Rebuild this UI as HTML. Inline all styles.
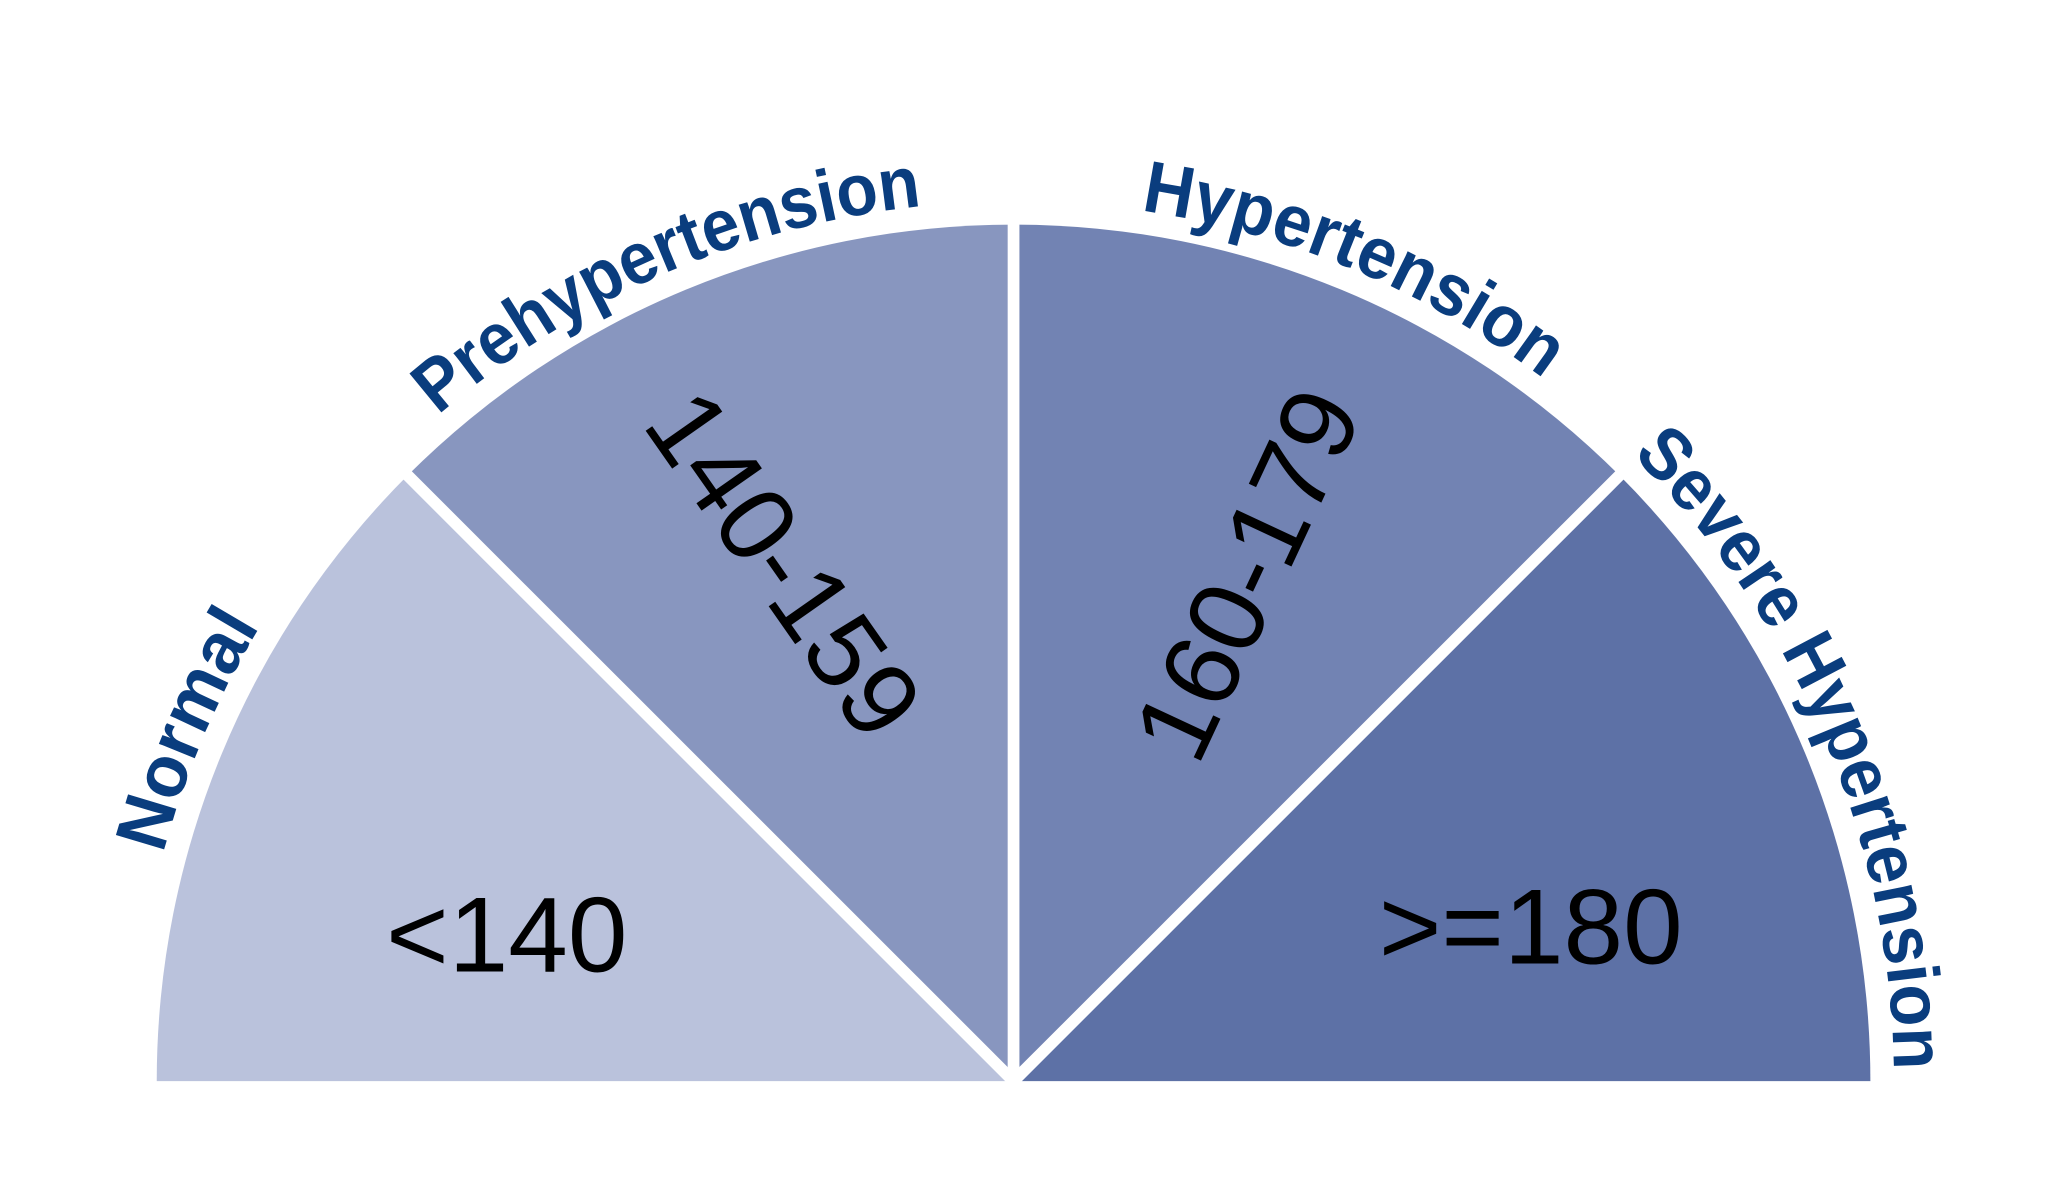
<!DOCTYPE html>
<html><head><meta charset="utf-8"><style>
html,body{margin:0;padding:0;background:#fff;}
svg{display:block;}
</style></head><body>
<svg width="2048" height="1200" viewBox="0 0 1568 919" preserveAspectRatio="none" xmlns="http://www.w3.org/2000/svg">
<defs>
<path id="arc" d="M 102 828 A 674 674 0 0 1 1450 828" fill="none"/>
</defs>
<g transform="translate(776,828)">
<path d="M0 0 L-656 0 A656 656 0 0 1 -463.9 -463.9 Z" fill="#bac2dc"/>
<path d="M0 0 L-463.9 -463.9 A656 656 0 0 1 0 -656 Z" fill="#8896bf"/>
<path d="M0 0 L0 -656 A656 656 0 0 1 463.9 -463.9 Z" fill="#7283b3"/>
<path d="M0 0 L463.9 -463.9 A656 656 0 0 1 656 0 Z" fill="#5d71a6"/>
<line x1="0" y1="4" x2="0" y2="-670" stroke="#fff" stroke-width="9"/>
<line x1="0" y1="0" x2="-480" y2="-480" stroke="#fff" stroke-width="9"/>
<line x1="0" y1="0" x2="480" y2="-480" stroke="#fff" stroke-width="9"/>
<rect x="-700" y="1" width="1400" height="30" fill="#fff"/>
</g>
<g font-family="'Liberation Sans', sans-serif" font-weight="bold" font-size="56" fill="#0a3d7e">
<text><textPath href="#arc" startOffset="12.8%" text-anchor="middle" textLength="190" lengthAdjust="spacingAndGlyphs">Normal</textPath></text>
<text><textPath href="#arc" startOffset="37%" text-anchor="middle" textLength="410" lengthAdjust="spacingAndGlyphs">Prehypertension</textPath></text>
<text><textPath href="#arc" startOffset="62.6%" text-anchor="middle" textLength="338" lengthAdjust="spacingAndGlyphs">Hypertension</textPath></text>
<text><textPath href="#arc" startOffset="87.2%" text-anchor="middle" textLength="525" lengthAdjust="spacingAndGlyphs">Severe Hypertension</textPath></text>
</g>
<g font-family="'Liberation Sans', sans-serif" font-size="82" fill="#000">
<text x="388" y="744" text-anchor="middle">&lt;140</text>
<text x="1172" y="738" text-anchor="middle">&gt;=180</text>
<text x="0" y="0" text-anchor="middle" transform="translate(600,432) rotate(55) translate(0,28)">140-159</text>
<text x="0" y="0" text-anchor="middle" transform="translate(955,440) rotate(-65) translate(0,28)">160-179</text>
</g>
</svg>
</body></html>
